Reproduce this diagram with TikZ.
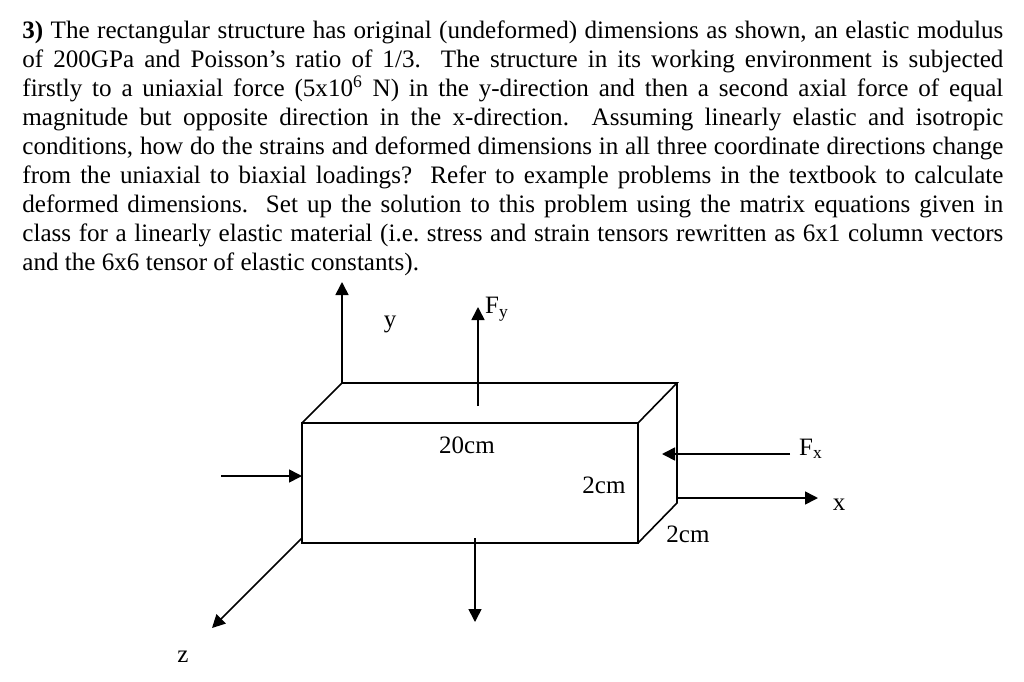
\documentclass[tikz,border=0pt]{standalone}
\usepackage{fontspec}
\setmainfont{Liberation Serif}
\usepackage{tikz}
\usetikzlibrary{arrows.meta,positioning}

\begin{document}
\begin{tikzpicture}[
    x=0.5pt, y=-0.5pt,
    problem/.style={inner sep=0pt, text width=490.5pt, align=justify, font=\fontsize{12.55}{14.5}\selectfont},
    edge/.style={line width=0.8pt},
    arrow/.style={-{Triangle[length=6.5pt, width=6.5pt]}, line width=0.8pt},
    label/.style={inner sep=0pt, font=\fontsize{12.5}{14}\selectfont},
]
    \useasboundingbox (0,0) rectangle (1024,681);

    \node[problem, anchor=north west] (problem) at (22,20) {\textbf{3)} The rectangular structure has original (undeformed) dimensions as shown, an elastic modulus\linebreak
    of 200GPa and Poisson’s ratio of 1/3.\ \ The structure in its working environment is subjected\linebreak
    firstly to a uniaxial force (5x10\textsuperscript{6} N) in the y-direction and then a second axial force of equal\linebreak
    magnitude but opposite direction in the x-direction.\ \ Assuming linearly elastic and isotropic\linebreak
    conditions, how do the strains and deformed dimensions in all three coordinate directions change\linebreak
    from the uniaxial to biaxial loadings?\ \ Refer to example problems in the textbook to calculate\linebreak
    deformed dimensions.\ \ Set up the solution to this problem using the matrix equations given in\linebreak
    class for a linearly elastic material (i.e.\ stress and strain tensors rewritten as 6x1 column vectors\linebreak
    and the 6x6 tensor of elastic constants).};

    % block corners
    \coordinate (ftl) at (302,423);
    \coordinate (ftr) at (638,423);
    \coordinate (fbr) at (638,543);
    \coordinate (fbl) at (302,543);
    \coordinate (btl) at (342,383);
    \coordinate (btr) at (677,383);
    \coordinate (bbr) at (677,503);

    \draw[edge] (ftl) -- (ftr) -- (fbr) -- (fbl) -- cycle;
    \draw[edge] (ftl) -- (btl) -- (btr) -- (ftr);
    \draw[edge] (btr) -- (bbr) -- (fbr);

    % axes
    \coordinate (ytip) at (342,282);
    \coordinate (xfoot) at (677,498);
    \coordinate (xtip) at (818,498);
    \coordinate (zfoot) at (302,538);
    \coordinate (ztip) at (212,628);
    \draw[arrow] (btl) -- (ytip);
    \draw[arrow] (xfoot) -- (xtip);
    \draw[arrow] (zfoot) -- (ztip);

    % forces
    \coordinate (fytail) at (478,406);
    \coordinate (fytip) at (478,307);
    \coordinate (fxtail) at (790,454);
    \coordinate (fxtip) at (662,454);
    \coordinate (lefttail) at (221,476);
    \coordinate (lefttip) at (302,476);
    \coordinate (downtail) at (475,538);
    \coordinate (downtip) at (475,622);
    \draw[arrow] (fytail) -- (fytip);
    \draw[arrow] (fxtail) -- (fxtip);
    \draw[arrow] (lefttail) -- (lefttip);
    \draw[arrow] (downtail) -- (downtip);

    \node[label] (ylabel) at (390,324) {y};
    \node[label] (fylabel) at (497,309) {F\textsubscript{y}};
    \node[label] (fxlabel) at (811,449) {F\textsubscript{x}};
    \node[label] (xlabel) at (839,505) {x};
    \node[label] (zlabel) at (183,657) {z};
    \node[label] (length) at (467,445) {20cm};
    \node[label] (height) at (604,485) {2cm};
    \node[label] (depth) at (688,534) {2cm};
\end{tikzpicture}
\end{document}
